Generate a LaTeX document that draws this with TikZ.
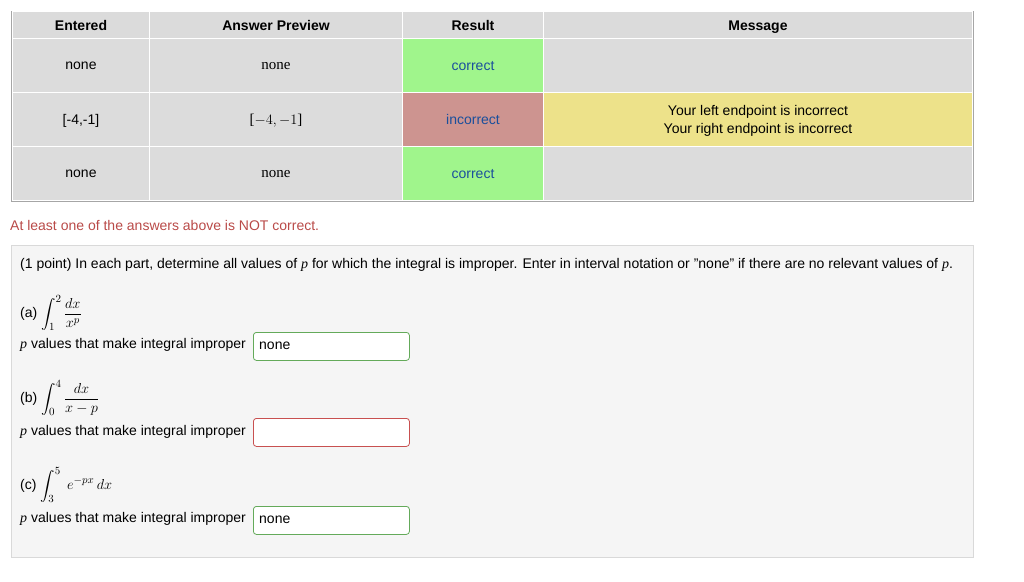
\documentclass[tikz,border=0pt]{standalone}
\usepackage{amsmath}
\usepackage{fontspec}
\setmainfont{Liberation Sans}
\newfontfamily\serif{Liberation Serif}
\begin{document}
\begin{tikzpicture}[x=1pt,y=-1pt,
  cell/.style={draw=white,line width=1pt,anchor=north west,inner sep=0pt,text depth=0pt,font=\fontsize{14}{16}\selectfont},
  hd/.style={cell,fill=black!14,text height=10pt,font=\fontsize{14}{16}\selectfont\bfseries},
  bx/.style={draw,rounded corners=3pt,line width=0.8pt,fill=white,minimum width=156pt,minimum height=28pt,anchor=north west,inner sep=0pt},
  txt/.style={font=\fontsize{14}{16}\selectfont,inner sep=0pt,anchor=west}]
\useasboundingbox (0,0) rectangle (1024,581);
\definecolor{gr}{HTML}{A0F58C}\definecolor{rd}{HTML}{CD9490}\definecolor{yl}{HTML}{EDE28A}
\definecolor{cl}{HTML}{DCDCDC}\definecolor{lk}{HTML}{1A4F9C}
\draw[black!35,fill=white] (11,11) rectangle (973,201);
\node[hd,minimum width=137pt,minimum height=27pt] (h1) at (12,11) {Entered};
\node[hd,minimum width=253pt,minimum height=27pt] (h2) at (149,11) {Answer Preview};
\node[hd,minimum width=141pt,minimum height=27pt] (h3) at (402,11) {Result};
\node[hd,minimum width=429pt,minimum height=27pt] (h4) at (543,11) {Message};
\node[cell,fill=cl,minimum width=137pt,minimum height=54pt] (ea) at (12,38) {none};
\node[cell,fill=cl,minimum width=253pt,minimum height=54pt,font=\fontsize{15}{17}\serif] (pra) at (149,38) {none};
\node[cell,fill=gr,minimum width=141pt,minimum height=54pt,text=lk] (ra) at (402,38) {correct};
\node[cell,fill=cl,minimum width=429pt,minimum height=54pt] (ma) at (543,38) {};
\node[cell,fill=cl,minimum width=137pt,minimum height=54pt] (eb) at (12,92) {[-4,-1]};
\node[cell,fill=cl,minimum width=253pt,minimum height=54pt,font=\fontsize{15}{17}\serif] (prb) at (149,92) {[$-4,-1$]};
\node[cell,fill=rd,minimum width=141pt,minimum height=54pt,text=lk] (rb) at (402,92) {incorrect};
\node[cell,fill=yl,minimum width=429pt,minimum height=54pt,align=center] (mb) at (543,92) {Your left endpoint is incorrect\\[2pt]Your right endpoint is incorrect};
\node[cell,fill=cl,minimum width=137pt,minimum height=54pt] (ec) at (12,146) {none};
\node[cell,fill=cl,minimum width=253pt,minimum height=54pt,font=\fontsize{15}{17}\serif] (prc) at (149,146) {none};
\node[cell,fill=gr,minimum width=141pt,minimum height=54pt,text=lk] (rc) at (402,146) {correct};
\node[cell,fill=cl,minimum width=429pt,minimum height=54pt] (mc) at (543,146) {};
\node[txt,text={rgb,255:red,185;green,74;blue,72}] (warn) at (10,225) {At least one of the answers above is NOT correct.};
\draw[black!15,fill=black!4] (11,245) rectangle (973,557);
\node[txt] (q) at (20,265) {(1 point) In each part, determine all values of {\serif\itshape p} for which the integral is improper. Enter in interval notation or "none" if there are no relevant values of {\serif\itshape p}.};
\node[txt] (la) at (20,313) {(a) \fontsize{15}{18}\selectfont$\displaystyle\int_1^2 \frac{dx}{x^p}$};
\node[txt] (pa) at (20,345) {{\serif\itshape p} values that make integral improper};
\node[bx,draw={rgb,255:red,100;green,170;blue,90}] (ba) at (253,332) {};
\node[txt] (va) at (259,346) {none};
\node[txt] (lb) at (20,398) {(b) \fontsize{15}{18}\selectfont$\displaystyle\int_0^4 \frac{dx}{x-p}$};
\node[txt] (pb) at (20,432) {{\serif\itshape p} values that make integral improper};
\node[bx,draw={rgb,255:red,200;green,80;blue,80}] (bb) at (253,418) {};
\node[txt] (lc) at (20,485) {(c) \fontsize{15}{18}\selectfont$\displaystyle\int_3^5 \; e^{-px}\,dx$};
\node[txt] (pc) at (20,519) {{\serif\itshape p} values that make integral improper};
\node[bx,draw={rgb,255:red,100;green,170;blue,90}] (bc) at (253,506) {};
\node[txt] (vc) at (259,520) {none};
\end{tikzpicture}
\end{document}
